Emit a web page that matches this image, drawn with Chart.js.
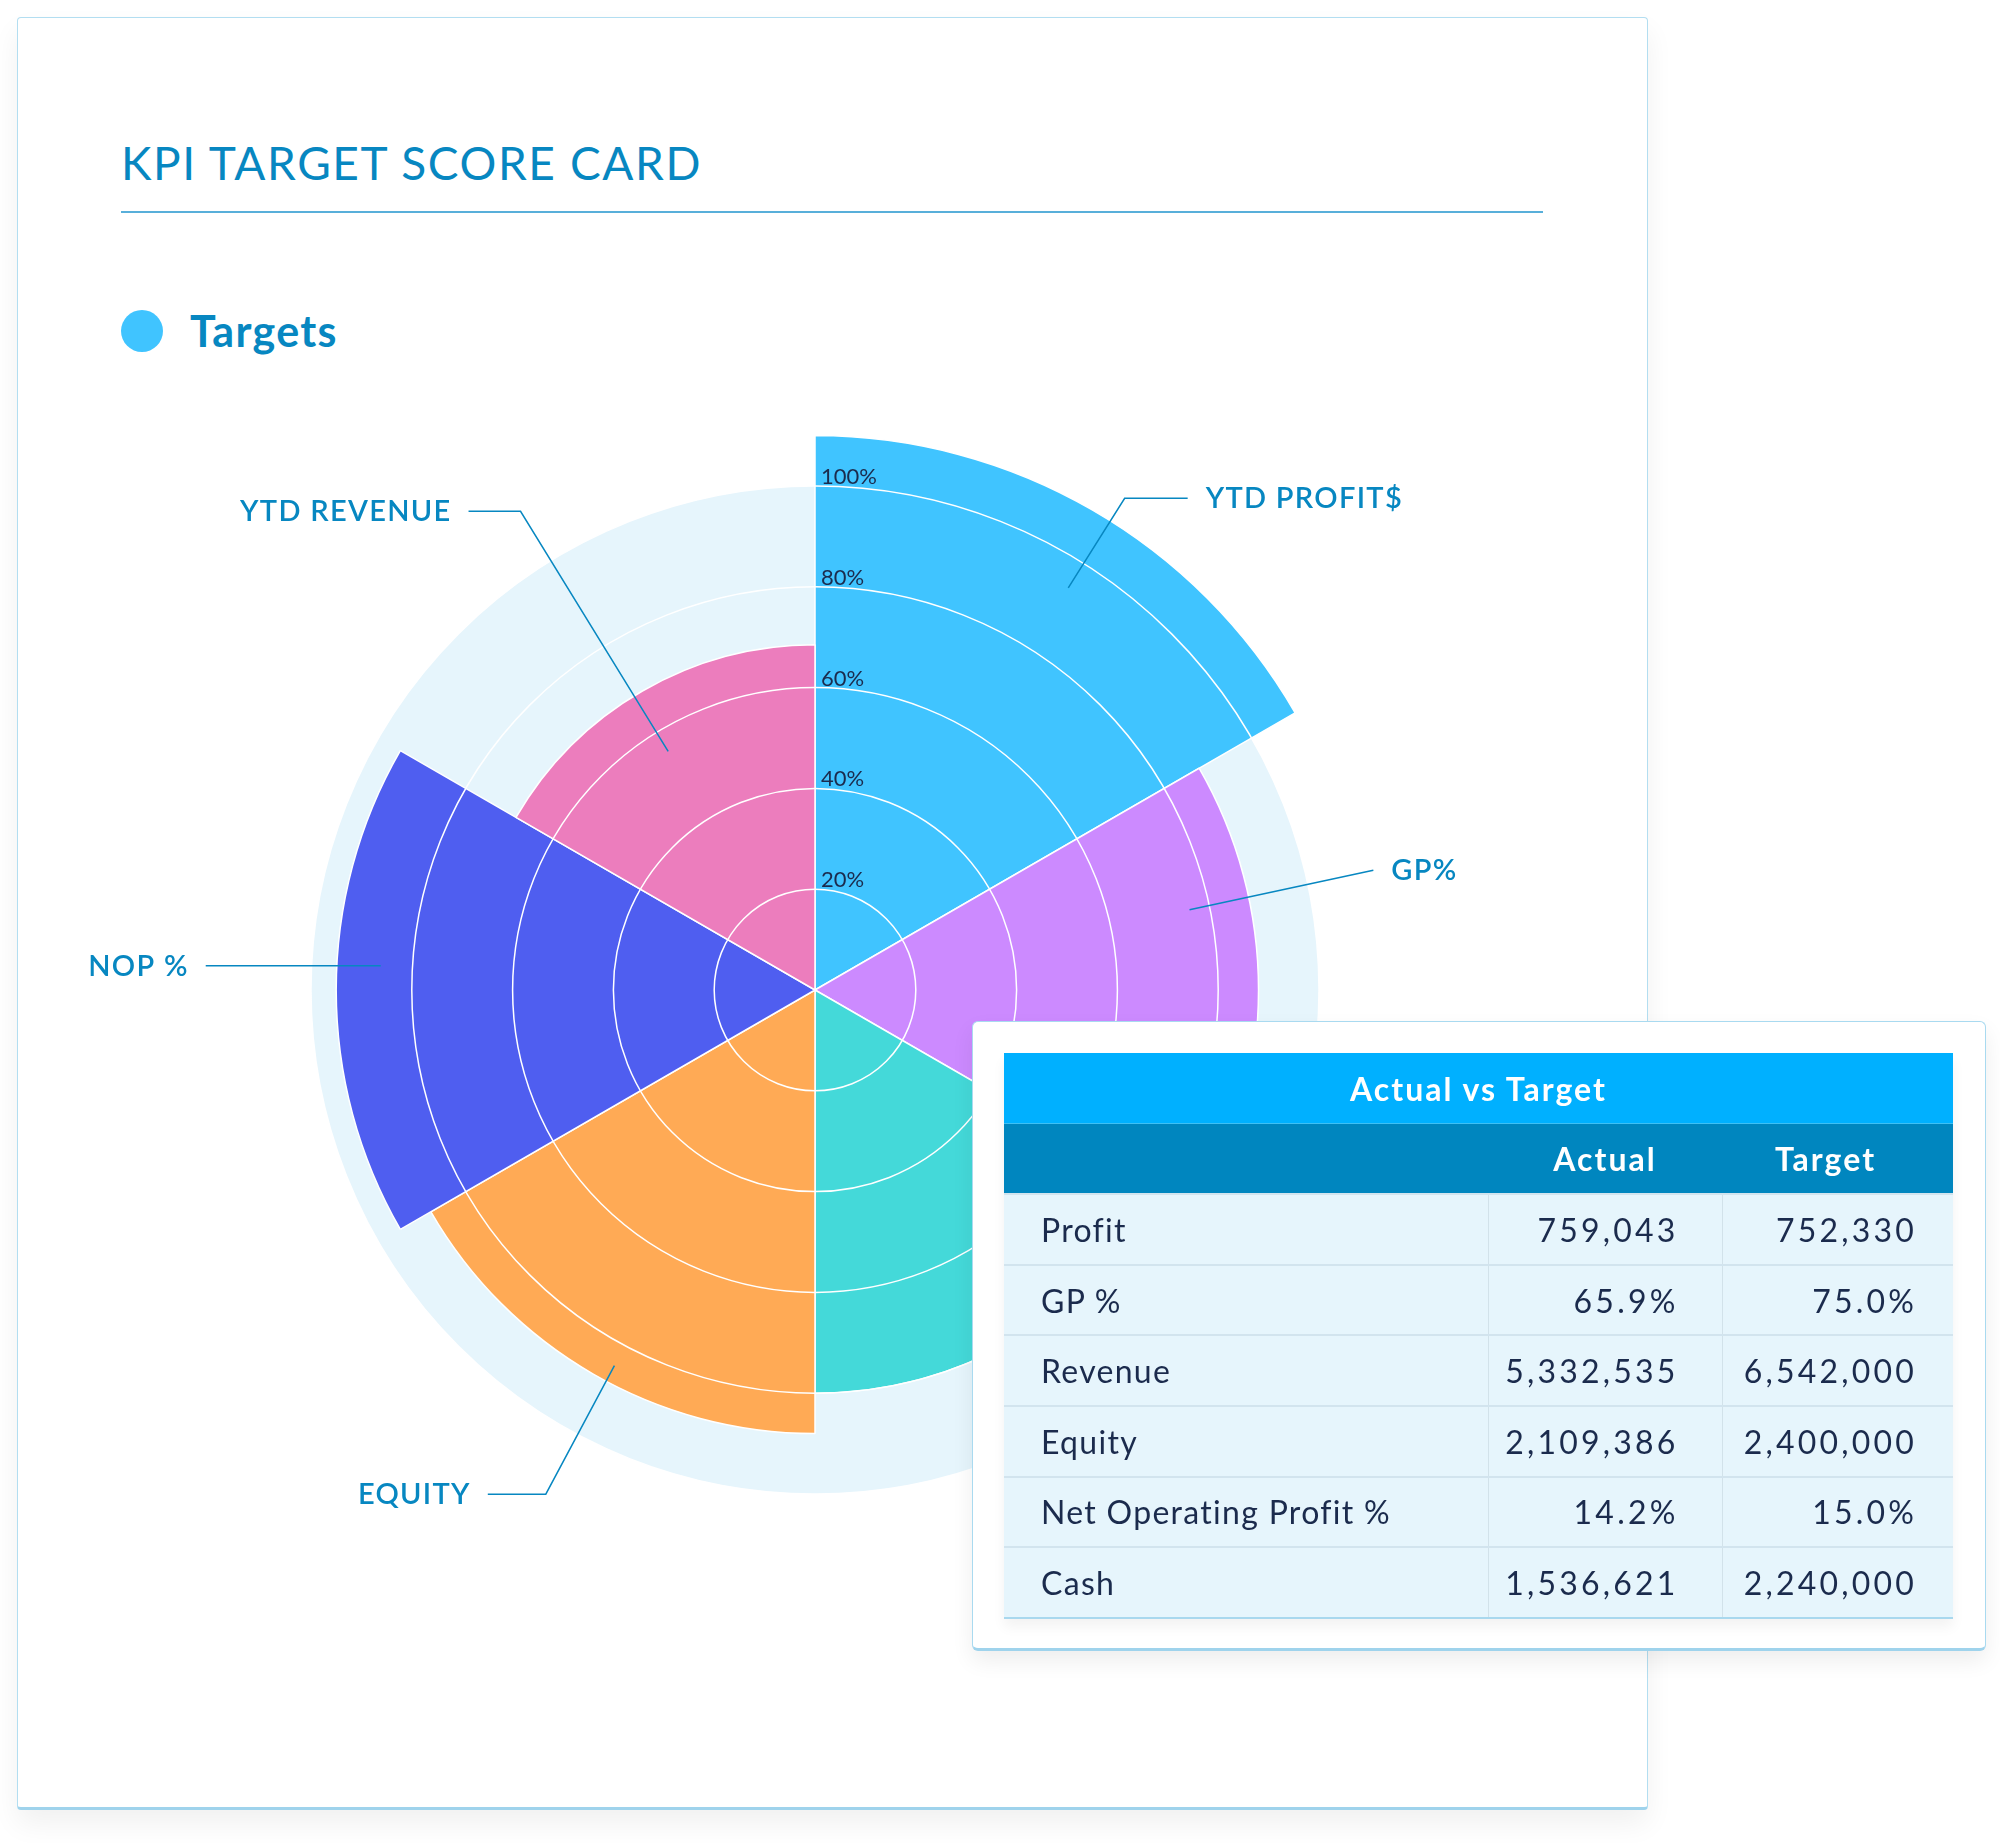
<!DOCTYPE html>
<html>
<head>
<meta charset="utf-8">
<title>KPI Target Score Card</title>
<script src="https://cdn.jsdelivr.net/npm/chart.js@4.4.0/dist/chart.umd.min.js"></script>
<style>
    html, body {
        margin: 0;
        padding: 0;
        width: 2000px;
        height: 1843px;
        background: #ffffff;
        font-family: Lato, "Open Sans", sans-serif;
        overflow: hidden;
    }
    .card {
        position: absolute;
        left: 17px;
        top: 17px;
        width: 1629px;
        height: 1789px;
        background: #ffffff;
        border: 1px solid #b3def1;
        border-bottom: 3px solid #9fd3ec;
        border-radius: 4px;
        box-shadow: 0 14px 28px rgba(0, 0, 0, 0.06);
    }
    /* children are placed relative to the card's padding box (page - 18px) */
    .title {
        position: absolute;
        left: 103px;
        top: 122px;
        font-size: 46px;
        letter-spacing: 1.6px;
        line-height: 1;
        color: #0787c1;
        white-space: nowrap;
    }
    .rule {
        position: absolute;
        left: 103px;
        top: 193px;
        width: 1422px;
        height: 2px;
        background: #58afda;
    }
    .legend-dot {
        position: absolute;
        left: 103px;
        top: 292px;
        width: 42px;
        height: 42px;
        border-radius: 50%;
        background: #40c4ff;
    }
    .legend-text {
        position: absolute;
        left: 172px;
        top: 291px;
        font-size: 43px;
        letter-spacing: 1.3px;
        line-height: 1;
        font-weight: 700;
        color: #0787c1;
    }
    #chartCanvas {
        position: absolute;
        left: 60px;
        top: 390px;
    }
    .table-card {
        position: absolute;
        left: 972px;
        top: 1021px;
        width: 1012px;
        height: 626px;
        background: #ffffff;
        border: 1px solid #a9daf0;
        border-bottom: 3px solid #9fd3ec;
        border-radius: 6px;
        box-shadow: 0 10px 22px rgba(0, 0, 0, 0.07);
    }
    table {
        position: absolute;
        left: 31px;
        top: 31px;
        width: 949px;
        border-collapse: collapse;
        table-layout: fixed;
        box-shadow: 0 8px 12px rgba(0, 0, 0, 0.05);
    }
    th, td {
        height: 70.6px;
        padding: 0;
        box-sizing: border-box;
        font-size: 32px;
        letter-spacing: 1.3px;
        white-space: nowrap;
    }
    th.caption {
        background: #00b0ff;
        color: #ffffff;
        font-weight: 700;
        font-size: 32px;
        letter-spacing: 2px;
        text-align: center;
        border-bottom: 1px solid #3ec0f5;
    }
    tr.colhead th {
        background: #0086bf;
        color: #ffffff;
        font-weight: 700;
        letter-spacing: 2px;
        text-align: center;
    }
    tr.colhead th.target-head { padding-right: 24px; }
    td {
        background: #e6f5fc;
        color: #1b2b4d;
        border-top: 2px solid #d2e4ee;
    }
    td.name { padding-left: 37px; text-align: left; }
    td.actual { text-align: right; padding-right: 43px; border-left: 1px solid #d2e2ea; letter-spacing: 3.2px; }
    td.target { text-align: right; padding-right: 36px; border-left: 1px solid #d2e2ea; letter-spacing: 3.2px; }
    tr:last-child td { border-bottom: 2px solid #a9d8ee; }
</style>
</head>
<body>
<div class="card">
    <div class="title">KPI TARGET SCORE CARD</div>
    <div class="rule"></div>
    <div class="legend-dot"></div>
    <div class="legend-text">Targets</div>
</div>
<canvas id="chartCanvas" width="1510" height="1200"></canvas>
<div class="table-card">
    <table id="kpiTable"></table>
</div>
<script>
// Chart data (percent of target reached)
const categories = ['YTD PROFIT$', 'GP%', 'CASH', 'EQUITY', 'NOP %', 'YTD REVENUE'];
const targetScores = [110, 88, 80, 88, 95, 68.5];
const sliceColors = ['#40c4ff', '#cc8aff', '#44d9d9', '#ffaa55', '#4f5ef0', '#ec7dbd'];

// Table data
const tableTitle = 'Actual vs Target';
const tableColumns = ['', 'Actual', 'Target'];
const tableRows = ['Profit', 'GP %', 'Revenue', 'Equity', 'Net Operating Profit %', 'Cash'];
const actualValues = ['759,043', '65.9%', '5,332,535', '2,109,386', '14.2%', '1,536,621'];
const targetValues = ['752,330', '75.0%', '6,542,000', '2,400,000', '15.0%', '2,240,000'];

// Callout layout for the category labels (angle in degrees clockwise from top,
// radii as fraction of the 100% ring, run = horizontal leader length)
const calloutLayout = [
    {angle: 32.2, from: 0.943, to: 1.153, run: 63},
    {angle: 77.9, from: 0.76, to: 1.133, run: 0},
    null, // hidden below the table
    {angle: 208.1, from: 0.845, to: 1.134, run: -58},
    {angle: 273.2, from: 0.863, to: 0.863, run: -175},
    {angle: 328.4, from: 0.556, to: 1.115, run: -52}
];

const LABEL_COLOR = '#0787c1';
const TICK_COLOR = '#1b2b4d';

// Build the table
let tbl = document.getElementById('kpiTable');
let html = '<colgroup><col style="width:484px"><col style="width:234px"><col style="width:231px"></colgroup>';
html += '<tr><th class="caption" colspan="3">' + tableTitle + '</th></tr>';
html += '<tr class="colhead">';
for (let c in tableColumns) {
    html += '<th' + (c == 2 ? ' class="target-head"' : '') + '>' + tableColumns[c] + '</th>';
}
html += '</tr>';
for (let i in tableRows) {
    html += '<tr><td class="name">' + tableRows[i] + '</td><td class="actual">' + actualValues[i]
        + '</td><td class="target">' + targetValues[i] + '</td></tr>';
}
tbl.innerHTML = html;

// Light blue disc behind the sectors (grid is drawn on top of the sectors)
const discPlugin = {
    id: 'disc',
    beforeDatasetsDraw(chart) {
        let scale = chart.scales.r;
        let ctx = chart.ctx;
        ctx.save();
        ctx.beginPath();
        ctx.arc(scale.xCenter, scale.yCenter, scale.getDistanceFromCenterForValue(scale.max), 0, Math.PI * 2);
        ctx.fillStyle = '#e6f5fc';
        ctx.fill();
        ctx.restore();
    }
};

// Tick labels and category callouts
const labelPlugin = {
    id: 'callouts',
    afterDraw(chart) {
        let scale = chart.scales.r;
        let ctx = chart.ctx;
        let cx = scale.xCenter;
        let cy = scale.yCenter;
        let full = scale.getDistanceFromCenterForValue(scale.max);
        ctx.save();

        // Tick labels left aligned, sitting on the rings
        ctx.font = '22px Lato';
        ctx.fillStyle = TICK_COLOR;
        ctx.textAlign = 'left';
        ctx.textBaseline = 'alphabetic';
        for (let tick of scale.ticks) {
            if (tick.value === 0)
                continue;
            let dist = scale.getDistanceFromCenterForValue(tick.value);
            ctx.fillText(tick.value + '%', cx + 6, cy - dist - 2);
        }

        // Category callouts
        ctx.font = '600 29px Lato';
        ctx.letterSpacing = '1.3px';
        ctx.strokeStyle = LABEL_COLOR;
        ctx.lineWidth = 1.5;
        ctx.fillStyle = LABEL_COLOR;
        for (let i in categories) {
            let lay = calloutLayout[i];
            if (!lay)
                continue;
            let a = (lay.angle - 90) * Math.PI / 180;
            let x1 = cx + Math.cos(a) * lay.from * full;
            let y1 = cy + Math.sin(a) * lay.from * full;
            let x2 = cx + Math.cos(a) * lay.to * full;
            let y2 = cy + Math.sin(a) * lay.to * full;
            let x3 = x2 + lay.run;
            ctx.beginPath();
            ctx.moveTo(x1, y1);
            ctx.lineTo(x2, y2);
            ctx.lineTo(x3, y2);
            ctx.stroke();
            let right = lay.run > 0 || (lay.run === 0 && x2 > cx);
            ctx.textAlign = right ? 'left' : 'right';
            ctx.fillText(categories[i], x3 + (right ? 18 : -17), y2 + 10);
        }
        ctx.restore();
    }
};

new Chart(document.getElementById('chartCanvas'), {
    type: 'polarArea',
    data: {
        labels: categories,
        datasets: [{
            label: 'Targets',
            data: targetScores,
            backgroundColor: sliceColors,
            borderColor: '#ffffff',
            borderWidth: 1.5
        }]
    },
    options: {
        responsive: false,
        animation: false,
        devicePixelRatio: 1,
        clip: false,
        layout: {
            padding: {left: 251, right: 251, top: 96, bottom: 96}
        },
        plugins: {
            legend: {display: false},
            tooltip: {enabled: false}
        },
        scales: {
            r: {
                min: 0,
                max: 100,
                ticks: {
                    stepSize: 20,
                    display: false
                },
                grid: {
                    circular: true,
                    color: '#ffffff',
                    lineWidth: 1.5,
                    z: 1
                },
                angleLines: {display: false},
                pointLabels: {display: false}
            }
        }
    },
    plugins: [discPlugin, labelPlugin]
});
</script>
</body>
</html>
